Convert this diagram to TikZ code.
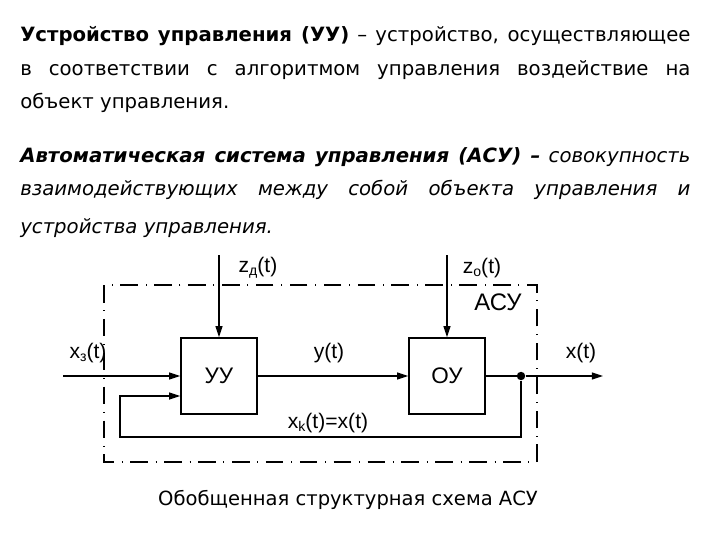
\documentclass[tikz,border=0pt]{standalone}
\usepackage{fontspec}
\setmainfont{DejaVu Sans}
\newfontfamily\diagfont{Liberation Sans}
\usetikzlibrary{arrows.meta}

\newcommand{\lowidx}[1]{\raisebox{-0.25ex}{\fontsize{10}{10}\selectfont #1}}

\tikzset{
  txt/.style={anchor=west, inner sep=0pt, font=\fontsize{14}{17}\selectfont},
  blk/.style={draw, line width=1pt, minimum size=1.9cm, inner sep=0pt, font=\diagfont\fontsize{16}{16}\selectfont},
  lbl/.style={inner sep=0pt, font=\diagfont\fontsize{15}{15}\selectfont},
  sig/.style={line width=1pt},
  dot/.style={circle, fill, inner sep=0pt, minimum size=6pt},
  asu/.style={line width=1pt, dash pattern=on 12.5pt off 5.5pt on 0.6pt off 5.5pt},
  >={Triangle[length=8pt,width=5pt]}
}

\begin{document}
\begin{tikzpicture}[x=0.025cm, y=-0.025cm]
\useasboundingbox (0,0) rectangle (720,540);

% definitions
\node[txt] (p1a) at (20,36) {\makebox[16.75cm][s]{\textbf{Устройство управления (УУ)} – устройство, осуществляющее}};
\node[txt] (p1b) at (20,70) {\makebox[16.75cm][s]{в соответствии с алгоритмом управления воздействие на}};
\node[txt] (p1c) at (20,103) {объект управления.};
\node[txt] (p2a) at (20,157) {\makebox[16.75cm][s]{\textbf{\itshape Автоматическая система управления (АСУ) –} \itshape совокупность}};
\node[txt] (p2b) at (20,190) {\makebox[16.75cm][s]{\itshape взаимодействующих между собой объекта управления и}};
\node[txt] (p2c) at (20,228) {\itshape устройства управления.};

% blocks
\draw[asu] (104,285) rectangle (537,462);
\node[blk] (uu) at (219,376) {УУ};
\node[blk] (ou) at (447,376) {ОУ};
\node[dot] (j) at (521,376) {};
\coordinate (xin) at (63,376);
\coordinate (xout) at (603,376);
\coordinate (zd) at (219,255);
\coordinate (zo) at (447,255);
\coordinate (fbl) at (120,437);

% signals
\draw[sig,->] (xin) -- (uu);
\draw[sig,->] (zd) -- (uu);
\draw[sig,->] (zo) -- (ou);
\draw[sig,->] (uu) -- (ou);
\draw[sig] (ou) -- (j);
\draw[sig,->] (j) -- (xout);
\draw[sig,->] (j) |- (fbl) |- ([yshift=-0.5cm]uu.west);

% labels
\node[lbl] (lxz) at (88,353) {x\lowidx{з}(t)};
\node[lbl] (lzd) at (258,268) {z\lowidx{д}(t)};
\node[lbl] (ly) at (329,353) {y(t)};
\node[lbl] (lzo) at (482,268) {z\lowidx{o}(t)};
\node[lbl, font=\diagfont\fontsize{17}{17}\selectfont] (lasu) at (498,302) {АСУ};
\node[lbl] (lx) at (581,353) {x(t)};
\node[lbl] (lxk) at (328,423) {x\lowidx{k}(t)=x(t)};

\node[inner sep=0pt, font=\fontsize{13.9}{14}\selectfont] (cap) at (348,500) {Обобщенная структурная схема АСУ};
\end{tikzpicture}
\end{document}
